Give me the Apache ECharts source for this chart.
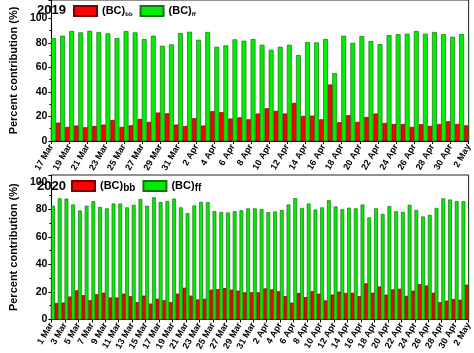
<!DOCTYPE html>
<html>
<head>
<meta charset="utf-8">
<script src="https://cdn.jsdelivr.net/npm/echarts@6/dist/echarts.min.js"></script>
<style>
html, body { margin: 0; padding: 0; background: #fff; }
#chart { width: 474px; height: 353px; }
</style>
</head>
<body>
<div id="chart"></div>
<script>
// 2019 panel: 17 Mar - 2 May
var days2019 = [
    '17 Mar','18 Mar','19 Mar','20 Mar','21 Mar','22 Mar','23 Mar','24 Mar','25 Mar','26 Mar',
    '27 Mar','28 Mar','29 Mar','30 Mar','31 Mar',
    '1 Apr','2 Apr','3 Apr','4 Apr','5 Apr','6 Apr','7 Apr','8 Apr','9 Apr','10 Apr',
    '11 Apr','12 Apr','13 Apr','14 Apr','15 Apr','16 Apr','17 Apr','18 Apr','19 Apr','20 Apr',
    '21 Apr','22 Apr','23 Apr','24 Apr','25 Apr','26 Apr','27 Apr','28 Apr','29 Apr','30 Apr',
    '1 May','2 May'
];
var bb2019 = [
    16.4, 14.7, 11.2, 12.3, 10.9, 12.0, 13.1, 16.9, 11.2, 12.5,
    17.7, 15.3, 22.9, 22.3, 13.1,
    12.0, 18.3, 12.3, 24.0, 23.2, 18.0, 19.0, 17.4, 22.1, 26.4,
    24.3, 22.1, 30.8, 20.2, 20.4, 17.4, 45.8, 15.0, 20.7, 15.3,
    19.3, 22.1, 14.4, 13.6, 13.6, 11.2, 13.4, 12.0, 13.6, 15.8,
    13.6, 12.5
];
var ff2019 = [
    83.6, 85.6, 89.4, 88.3, 89.6, 88.6, 87.5, 83.6, 89.4, 88.3,
    82.8, 85.6, 77.4, 78.5, 87.7,
    88.8, 82.3, 88.6, 76.6, 77.7, 82.6, 81.5, 82.8, 78.2, 74.1,
    76.6, 78.2, 69.8, 80.4, 80.1, 82.8, 55.0, 85.6, 79.8, 85.3,
    81.2, 78.7, 86.1, 86.9, 87.2, 89.4, 87.2, 88.6, 86.9, 84.7,
    86.9, 87.5
];

// 2020 panel: 1 Mar - 2 May
var days2020 = [
    '1 Mar','2 Mar','3 Mar','4 Mar','5 Mar','6 Mar','7 Mar','8 Mar','9 Mar','10 Mar',
    '11 Mar','12 Mar','13 Mar','14 Mar','15 Mar','16 Mar','17 Mar','18 Mar','19 Mar','20 Mar',
    '21 Mar','22 Mar','23 Mar','24 Mar','25 Mar','26 Mar','27 Mar','28 Mar','29 Mar','30 Mar',
    '31 Mar',
    '1 Apr','2 Apr','3 Apr','4 Apr','5 Apr','6 Apr','7 Apr','8 Apr','9 Apr','10 Apr',
    '11 Apr','12 Apr','13 Apr','14 Apr','15 Apr','16 Apr','17 Apr','18 Apr','19 Apr','20 Apr',
    '21 Apr','22 Apr','23 Apr','24 Apr','25 Apr','26 Apr','27 Apr','28 Apr','29 Apr','30 Apr',
    '1 May','2 May'
];
var bb2020 = [
    17.6, 11.7, 12.0, 16.4, 20.9, 17.4, 13.8, 18.1, 19.2, 15.7,
    15.7, 18.5, 16.7, 12.4, 17.1, 11.3, 14.8, 13.8, 12.4, 18.5,
    22.8, 17.1, 14.3, 14.8, 21.4, 21.8, 22.5, 21.4, 20.7, 19.5,
    19.5,
    19.5, 22.3, 21.6, 20.2, 16.7, 12.0, 19.0, 16.0, 20.4, 18.5,
    13.6, 17.8, 20.0, 19.0, 19.2, 16.7, 26.0, 19.2, 23.7, 17.8,
    21.6, 22.1, 16.9, 20.7, 25.4, 24.4, 19.2, 12.4, 13.4, 14.6,
    14.1, 25.1
];
var ff2020 = [
    82.4, 87.8, 87.6, 83.3, 78.9, 82.4, 85.7, 81.5, 80.5, 84.0,
    84.0, 81.2, 83.1, 87.3, 82.4, 88.5, 85.0, 85.9, 87.6, 81.2,
    77.0, 82.6, 85.2, 85.0, 78.4, 77.9, 77.5, 78.4, 79.1, 80.5,
    80.5,
    80.0, 77.7, 78.2, 79.3, 83.3, 88.0, 80.8, 84.0, 79.6, 81.2,
    86.4, 81.9, 79.8, 81.0, 80.5, 83.3, 73.9, 80.5, 76.5, 82.2,
    78.4, 77.9, 83.1, 79.3, 74.6, 75.8, 80.8, 87.8, 86.9, 85.7,
    85.7, 74.9
];

var FONT = '"Liberation Sans", Arial, sans-serif';
var RED = '#ff0000', RED_EDGE = '#7a0000';
var GREEN = '#00ee00', GREEN_EDGE = '#1b6e1b';

function makeXAxis(idx, cats) {
    return {
        gridIndex: idx,
        type: 'category',
        data: cats,
        boundaryGap: false,
        axisLine: { lineStyle: { color: '#000', width: 1 } },
        axisTick: { interval: 1, length: 3, lineStyle: { color: '#000' } },
        axisLabel: {
            interval: 1, rotate: 60, margin: 4,
            fontSize: 9, fontWeight: 'bold', color: '#000', fontFamily: FONT
        },
        splitLine: { show: false }
    };
}

function makeYAxis(idx, max) {
    return {
        gridIndex: idx,
        type: 'value',
        min: 0,
        max: max,
        interval: 20,
        name: 'Percent contribution (%)',
        nameLocation: 'middle',
        nameGap: 22,
        nameTextStyle: { fontSize: 11, fontWeight: 'bold', color: '#000', fontFamily: FONT },
        axisLine: { show: true, lineStyle: { color: '#000' } },
        axisTick: { show: true, length: 3, lineStyle: { color: '#000' } },
        minorTick: { show: true, splitNumber: 2, length: 2, lineStyle: { color: '#000' } },
        axisLabel: {
            showMaxLabel: false, margin: 4,
            fontSize: 10.5, fontWeight: 'bold', color: '#000', fontFamily: FONT
        },
        splitLine: { show: false }
    };
}

// side -1: bar left of the day tick, side 1: right of it; bars are cut at the frame
function barRenderer(side, ratio) {
    return function (params, api) {
        var top = api.coord([api.value(0), api.value(1)]);
        var base = api.coord([api.value(0), 0]);
        var w = api.size([1, 0])[0] * ratio;
        var rect = echarts.graphic.clipRectByRect({
            x: side < 0 ? top[0] - w : top[0],
            y: top[1],
            width: w,
            height: base[1] - top[1]
        }, {
            x: params.coordSys.x,
            y: params.coordSys.y,
            width: params.coordSys.width,
            height: params.coordSys.height
        });
        if (!rect) {
            return;
        }
        return { type: 'rect', shape: rect, style: api.style() };
    };
}

function makeBar(name, idx, values, side, color, edge) {
    return {
        name: name,
        type: 'custom',
        xAxisIndex: idx,
        yAxisIndex: idx,
        renderItem: barRenderer(side, 0.46),
        encode: { x: 0, y: 1 },
        data: values.map(function (v, i) { return [i, v]; }),
        itemStyle: { color: color, borderColor: edge, borderWidth: 0.7 }
    };
}

function makeLegend(top, left, subSize, subPad) {
    return {
        top: top,
        left: left,
        padding: 0,
        icon: 'rect',
        itemWidth: 23,
        itemHeight: 10,
        itemGap: 7,
        data: ['(BC)bb', '(BC)ff'],
        formatter: function (name) {
            return '{a|(BC)}{s|' + name.slice(4) + '}';
        },
        textStyle: {
            color: '#000',
            rich: {
                a: { fontSize: 11, fontWeight: 'bold', fontFamily: FONT, color: '#000' },
                s: { fontSize: subSize, fontWeight: 'bold', fontFamily: FONT, color: '#000', padding: [subPad, 0, 0, 0] }
            }
        }
    };
}

var chart = echarts.init(document.getElementById('chart'));

chart.setOption({
    animation: false,
    backgroundColor: '#fff',
    title: [
        { text: '2019', left: 37, top: 4, padding: 0,
          textStyle: { fontSize: 13, fontWeight: 'bold', color: '#000', fontFamily: FONT } },
        { text: '2020', left: 37, top: 180, padding: 0,
          textStyle: { fontSize: 13, fontWeight: 'bold', color: '#000', fontFamily: FONT } }
    ],
    legend: [
        makeLegend(5, 73, 6, 7),
        makeLegend(180, 71, 10, 5)
    ],
    grid: [
        { left: 31, right: 3, top: 0, height: 141, show: true, borderColor: '#222', borderWidth: 1 },
        { left: 31, right: 3, top: 175, height: 149, show: true, borderColor: '#222', borderWidth: 1 }
    ],
    xAxis: [makeXAxis(0, days2019), makeXAxis(1, days2020)],
    yAxis: [makeYAxis(0, 115), makeYAxis(1, 105)],
    series: [
        makeBar('(BC)bb', 0, bb2019, -1, RED, RED_EDGE),
        makeBar('(BC)ff', 0, ff2019, 1, GREEN, GREEN_EDGE),
        makeBar('(BC)bb', 1, bb2020, -1, RED, RED_EDGE),
        makeBar('(BC)ff', 1, ff2020, 1, GREEN, GREEN_EDGE)
    ]
});
</script>
</body>
</html>
